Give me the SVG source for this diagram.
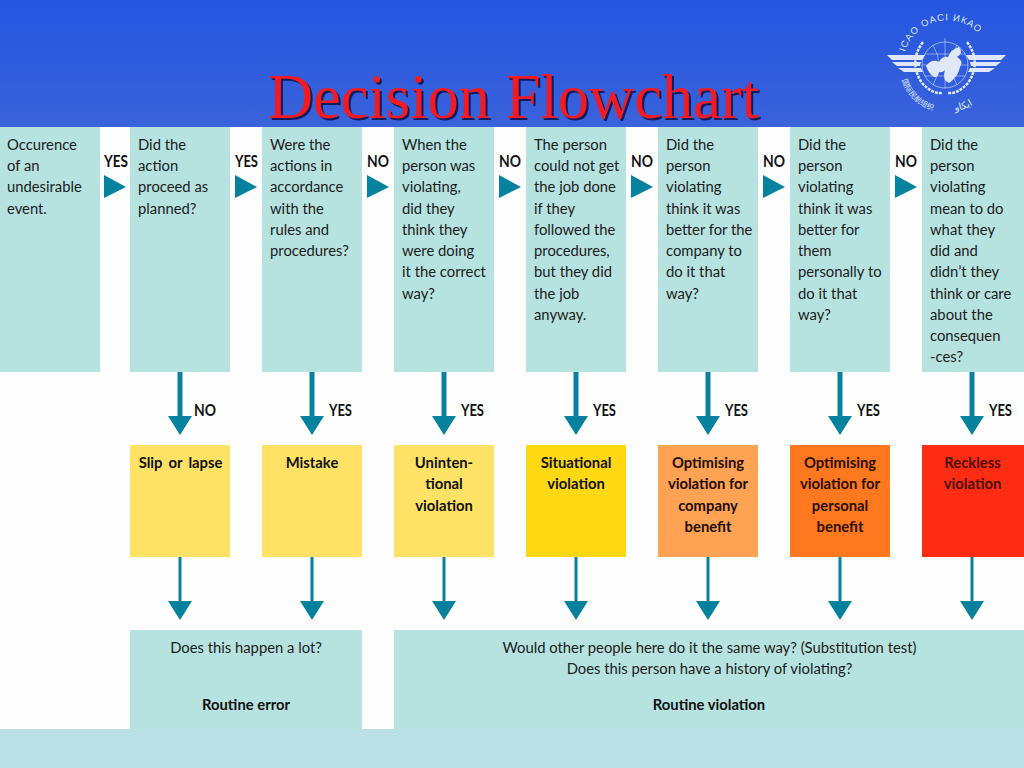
<svg xmlns="http://www.w3.org/2000/svg" width="1024" height="768" viewBox="0 0 1024 768">
<style>
.t{font-family:"Lato","Liberation Sans",sans-serif;font-size:14.8px;fill:#1c1c1c}
.b{font-family:"Lato","Liberation Sans",sans-serif;font-size:14.8px;font-weight:700;fill:#111}
.l{font-family:"Lato","Liberation Sans",sans-serif;font-size:17.5px;font-weight:700;fill:#111}
.m{text-anchor:middle}
.box{fill:#b6e2df}
.thick{stroke:#06829f;stroke-width:5;fill:none}
.thin{stroke:#06829f;stroke-width:3;fill:none}
.ah{fill:#06829f}
.lg{fill:#dfe7f8}
.ls{stroke:#dfe7f8;fill:none}
</style>
<defs>
<linearGradient id="bg" x1="0" y1="0" x2="0" y2="1"><stop offset="0" stop-color="#2456e0"/><stop offset="1" stop-color="#3a62da"/></linearGradient>
<path id="lgarc" d="M905,52 A44,44 0 0 1 990,54"/>
<path id="lgcn" d="M902,80 A45,45 0 0 0 942,112"/>
<path id="lgar" d="M955,111 A45,45 0 0 0 991,84"/>
</defs>
<rect width="1024" height="768" fill="#fefefe"/>
<rect width="1024" height="127" fill="url(#bg)"/>
<rect y="729" width="1024" height="39" fill="#bbe1e6"/>
<g id="title"><text x="513.500" y="118" text-anchor="middle" font-family="Liberation Serif,serif" font-size="62.500" fill="#07104a" opacity=".85" transform="translate(2,2)">Decision Flowchart</text>
<text x="513.500" y="118" text-anchor="middle" font-family="Liberation Serif,serif" font-size="62.500" fill="#f41a22">Decision Flowchart</text></g>
<g id="logo">
<text font-family="Liberation Sans,sans-serif" font-size="9.500" fill="#dfe7f8" letter-spacing="1"><textPath href="#lgarc">ICAO   OACI   ИКАО</textPath></text>
<circle cx="945" cy="65" r="23" class="ls" stroke-width=".6"/>
<path class="ls" stroke-width=".5" d="M945,38 V88 M922,65 H968 M933,45 Q945,65 933,85 M957,45 Q945,65 957,85 M925,54 H965 M925,76 H965"/>
<path class="lg" d="M926,66 q6,-8 13,-4 q3,-6 9,-5 q3,-8 11,-10 q5,6 -2,10 q7,4 3,10 q-2,10 -11,16 q-7,-2 -4,-13 q-3,3 -6,2 q-1,6 -5,5 q-5,-3 -8,-11z"/>
<path class="lg" d="M887,55 H925 L922,60 H892Z M892,62 H921 L920,66 H897Z M898,68 H921 L923,72 H904Z M1006,55 H966 L969,60 H1001Z M1001,62 H970 L971,66 H996Z M995,68 H970 L968,72 H989Z"/>
<path class="ls" stroke-width="2.500" stroke-dasharray="3 1" d="M923,42 Q908,62 922,83 Q932,94 942,93 M967,42 Q982,62 968,83 Q958,94 948,93"/>
<text font-family="Noto Sans CJK SC,sans-serif" font-size="7.500" fill="#dfe7f8"><textPath href="#lgcn">国际民航组织</textPath></text>
<text font-family="Noto Sans,DejaVu Sans,sans-serif" font-size="10" fill="#dfe7f8"><textPath href="#lgar">ايكاو</textPath></text>
</g>

<g id="q0"><rect class="box" x="0" y="127" width="100" height="245"/>
<text class="t"><tspan x="7" y="150">Occurence</tspan><tspan x="7" y="171">of an</tspan><tspan x="7" y="192">undesirable</tspan><tspan x="7" y="214">event.</tspan></text></g>
<g id="q1"><rect class="box" x="130" y="127" width="100" height="245"/>
<text class="t"><tspan x="138" y="150">Did the</tspan><tspan x="138" y="171">action</tspan><tspan x="138" y="192">proceed as</tspan><tspan x="138" y="214">planned?</tspan></text></g>
<g id="q2"><rect class="box" x="262" y="127" width="100" height="245"/>
<text class="t"><tspan x="270" y="150">Were the</tspan><tspan x="270" y="171">actions in</tspan><tspan x="270" y="192">accordance</tspan><tspan x="270" y="214">with the</tspan><tspan x="270" y="235">rules and</tspan><tspan x="270" y="256">procedures?</tspan></text></g>
<g id="q3"><rect class="box" x="394" y="127" width="100" height="245"/>
<text class="t"><tspan x="402" y="150">When the</tspan><tspan x="402" y="171">person was</tspan><tspan x="402" y="192">violating,</tspan><tspan x="402" y="214">did they</tspan><tspan x="402" y="235">think they</tspan><tspan x="402" y="256">were doing</tspan><tspan x="402" y="277">it the correct</tspan><tspan x="402" y="299">way?</tspan></text></g>
<g id="q4"><rect class="box" x="526" y="127" width="100" height="245"/>
<text class="t"><tspan x="534" y="150">The person</tspan><tspan x="534" y="171">could not get</tspan><tspan x="534" y="192">the job done</tspan><tspan x="534" y="214">if they</tspan><tspan x="534" y="235">followed the</tspan><tspan x="534" y="256">procedures,</tspan><tspan x="534" y="277">but they did</tspan><tspan x="534" y="299">the job</tspan><tspan x="534" y="320">anyway.</tspan></text></g>
<g id="q5"><rect class="box" x="658" y="127" width="100" height="245"/>
<text class="t"><tspan x="666" y="150">Did the</tspan><tspan x="666" y="171">person</tspan><tspan x="666" y="192">violating</tspan><tspan x="666" y="214">think it was</tspan><tspan x="666" y="235">better for the</tspan><tspan x="666" y="256">company to</tspan><tspan x="666" y="277">do it that</tspan><tspan x="666" y="299">way?</tspan></text></g>
<g id="q6"><rect class="box" x="790" y="127" width="100" height="245"/>
<text class="t"><tspan x="798" y="150">Did the</tspan><tspan x="798" y="171">person</tspan><tspan x="798" y="192">violating</tspan><tspan x="798" y="214">think it was</tspan><tspan x="798" y="235">better for</tspan><tspan x="798" y="256">them</tspan><tspan x="798" y="277">personally to</tspan><tspan x="798" y="299">do it that</tspan><tspan x="798" y="320">way?</tspan></text></g>
<g id="q7"><rect class="box" x="922" y="127" width="102" height="245"/>
<text class="t"><tspan x="930" y="150">Did the</tspan><tspan x="930" y="171">person</tspan><tspan x="930" y="192">violating</tspan><tspan x="930" y="214">mean to do</tspan><tspan x="930" y="235">what they</tspan><tspan x="930" y="256">did and</tspan><tspan x="930" y="277">didn’t they</tspan><tspan x="930" y="299">think or care</tspan><tspan x="930" y="320">about the</tspan><tspan x="930" y="341">consequen</tspan><tspan x="930" y="362">-ces?</tspan></text></g>

<g id="r1"><rect x="130" y="445" width="100" height="112" fill="#fee265"/><text class="b m" x="180.500" y="468" word-spacing="2.500">Slip or lapse</text></g>
<g id="r2"><rect x="262" y="445" width="100" height="112" fill="#fee265"/><text class="b m" x="312" y="468">Mistake</text></g>
<g id="r3"><rect x="394" y="445" width="100" height="112" fill="#fee265"/><text class="b m"><tspan x="444" y="468">Uninten-</tspan><tspan x="444" y="489">tional</tspan><tspan x="444" y="511">violation</tspan></text></g>
<g id="r4"><rect x="526" y="445" width="100" height="112" fill="#fed813"/><text class="b m"><tspan x="576" y="468">Situational</tspan><tspan x="576" y="489">violation</tspan></text></g>
<g id="r5"><rect x="658" y="445" width="100" height="112" fill="#fea253"/><text class="b m" style="fill:#1d0d05"><tspan x="708" y="468">Optimising</tspan><tspan x="708" y="489">violation for</tspan><tspan x="708" y="511">company</tspan><tspan x="708" y="532">benefit</tspan></text></g>
<g id="r6"><rect x="790" y="445" width="100" height="112" fill="#fe7820"/><text class="b m" style="fill:#2a0f04"><tspan x="840" y="468">Optimising</tspan><tspan x="840" y="489">violation for</tspan><tspan x="840" y="511">personal</tspan><tspan x="840" y="532">benefit</tspan></text></g>
<g id="r7"><rect x="922" y="445" width="102" height="112" fill="#fe2c12"/><text class="b m" style="fill:#4a0f06"><tspan x="972.500" y="468">Reckless</tspan><tspan x="972.500" y="489">violation</tspan></text></g>

<g id="e1"><rect class="box" x="130" y="630" width="232" height="99"/><text class="t m" x="246" y="653">Does this happen a lot?</text><text class="b m" x="246" y="710">Routine error</text></g>
<g id="e2"><rect class="box" x="394" y="630" width="630" height="99"/><text class="t m"><tspan x="709.500" y="653">Would other people here do it the same way? (Substitution test)</tspan><tspan x="709.500" y="674">Does this person have a history of violating?</tspan></text><text class="b m" x="709" y="710">Routine violation</text></g>

<g id="connectors">
<path class="ah" d="M104,175 L126,187 L104,198Z M235,175 L257,187 L235,198Z M367,175 L389,187 L367,198Z M499,175 L521,187 L499,198Z M631,175 L653,187 L631,198Z M763,175 L785,187 L763,198Z M895,175 L917,187 L895,198Z"/>
<path class="thick" d="M180,372 V416 M312,372 V416 M444,372 V416 M576,372 V416 M708,372 V416 M840,372 V416 M972,372 V416"/>
<path class="ah" d="M168,416 H192 L180,435Z M300,416 H324 L312,435Z M432,416 H456 L444,435Z M564,416 H588 L576,435Z M696,416 H720 L708,435Z M828,416 H852 L840,435Z M960,416 H984 L972,435Z"/>
<path class="thin" d="M180,557 V602 M312,557 V602 M444,557 V602 M576,557 V602 M708,557 V602 M840,557 V602 M972,557 V602"/>
<path class="ah" d="M168,601 H192 L180,620Z M300,601 H324 L312,620Z M432,601 H456 L444,620Z M564,601 H588 L576,620Z M696,601 H720 L708,620Z M828,601 H852 L840,620Z M960,601 H984 L972,620Z"/>
<g class="l">
<text x="104" y="167" textLength="24" lengthAdjust="spacingAndGlyphs">YES</text><text x="235" y="167" textLength="23" lengthAdjust="spacingAndGlyphs">YES</text><text x="367" y="167" textLength="22" lengthAdjust="spacingAndGlyphs">NO</text><text x="499" y="167" textLength="22" lengthAdjust="spacingAndGlyphs">NO</text><text x="631" y="167" textLength="22" lengthAdjust="spacingAndGlyphs">NO</text><text x="763" y="167" textLength="22" lengthAdjust="spacingAndGlyphs">NO</text><text x="895" y="167" textLength="22" lengthAdjust="spacingAndGlyphs">NO</text>
<text x="194" y="416" textLength="22" lengthAdjust="spacingAndGlyphs">NO</text><text x="329" y="416" textLength="23" lengthAdjust="spacingAndGlyphs">YES</text><text x="461" y="416" textLength="23" lengthAdjust="spacingAndGlyphs">YES</text><text x="593" y="416" textLength="23" lengthAdjust="spacingAndGlyphs">YES</text><text x="725" y="416" textLength="23" lengthAdjust="spacingAndGlyphs">YES</text><text x="857" y="416" textLength="23" lengthAdjust="spacingAndGlyphs">YES</text><text x="989" y="416" textLength="23" lengthAdjust="spacingAndGlyphs">YES</text>
</g>
</g>
</svg>
